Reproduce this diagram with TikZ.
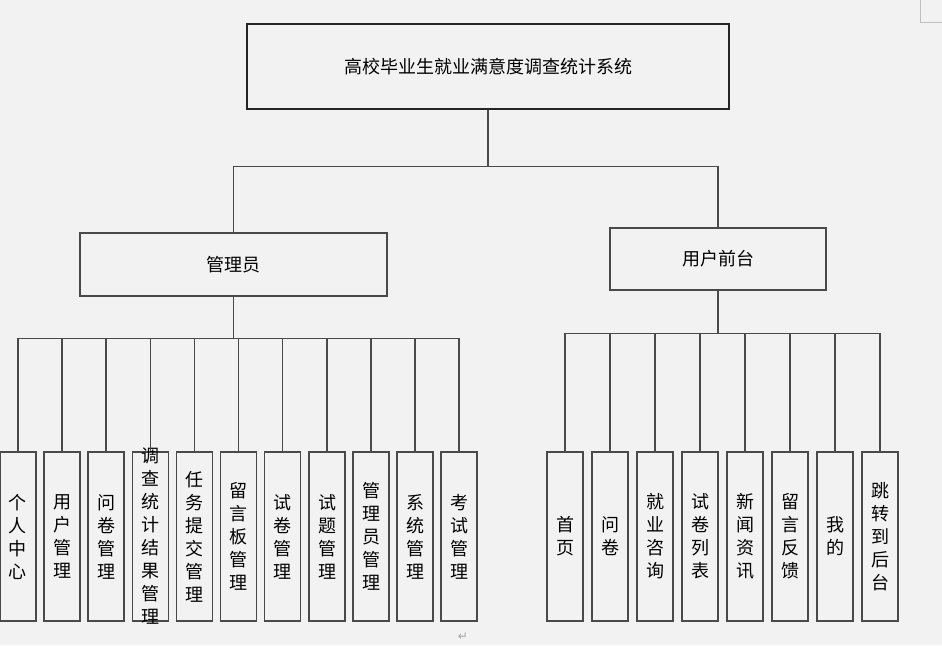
\documentclass[tikz,border=0pt]{standalone}
\usepackage{fontspec}
\newfontfamily\cjk{Noto Sans CJK SC}
\newfontfamily\symfont{DejaVu Sans}
\usetikzlibrary{positioning,calc}
\definecolor{bg}{HTML}{F2F2F2}
\definecolor{ln}{HTML}{4A4A4A}
\tikzset{
  box/.style={draw=ln,line width=1.3pt,fill=bg,inner sep=0pt,font=\cjk\fontsize{18}{20}\selectfont},
  leaf/.style={box,minimum width=36pt,minimum height=169pt},
  vtext/.style={align=center,inner sep=0pt,font=\cjk\fontsize{18}{23}\selectfont},
  link/.style={draw=ln,line width=1.3pt}
}
\begin{document}
\begin{tikzpicture}[x=1pt,y=-1pt]
\fill[bg] (0,0) rectangle (942,645);
\useasboundingbox (0,0) rectangle (942,645);
\draw[black!25] (920,0) -- (920,22) -- (942,22);
\node[box,draw=black!85,minimum width=482pt,minimum height=85pt] (sys) at (488,66.5) {高校毕业生就业满意度调查统计系统};
\node[box,minimum width=307pt,minimum height=63pt] (adm) at (233.5,264.5) {管理员};
\node[box,minimum width=216pt,minimum height=62pt] (usr) at (718,259) {用户前台};
\draw[link] (sys.south) -- ++(0,57) coordinate (b0);
\draw[link] (b0) -| (adm.north);
\draw[link] (b0) -| (usr.north);
\draw[link] (adm.south) -- ++(0,42) coordinate (b1);
\foreach \x/\t [count=\i] in {18/{个\\人\\中\\心},62/{用\\户\\管\\理},106/{问\\卷\\管\\理},150.5/{调\\查\\统\\计\\结\\果\\管\\理},194.5/{任\\务\\提\\交\\管\\理},238.5/{留\\言\\板\\管\\理},282.5/{试\\卷\\管\\理},327/{试\\题\\管\\理},371/{管\\理\\员\\管\\理},415/{系\\统\\管\\理},459/{考\\试\\管\\理}} {
  \node[leaf] (a\i) at (\x,536.5) {};
  \node[vtext] at (a\i) {\t};
  \draw[link] (b1) -| (a\i.north);
}
\draw[link] (usr.south) -- ++(0,43) coordinate (b2);
\foreach \x/\t [count=\i] in {565/{首\\页},610/{问\\卷},655/{就\\业\\咨\\询},700/{试\\卷\\列\\表},745/{新\\闻\\资\\讯},790/{留\\言\\反\\馈},835/{我\\的},880/{跳\\转\\到\\后\\台}} {
  \node[leaf] (u\i) at (\x,536.5) {};
  \node[vtext] at (u\i) {\t};
  \draw[link] (b2) -| (u\i.north);
}
\node[text=black!35,font=\symfont\fontsize{12}{12}\selectfont] (ret) at (463,637) {↵};
\end{tikzpicture}
\end{document}
